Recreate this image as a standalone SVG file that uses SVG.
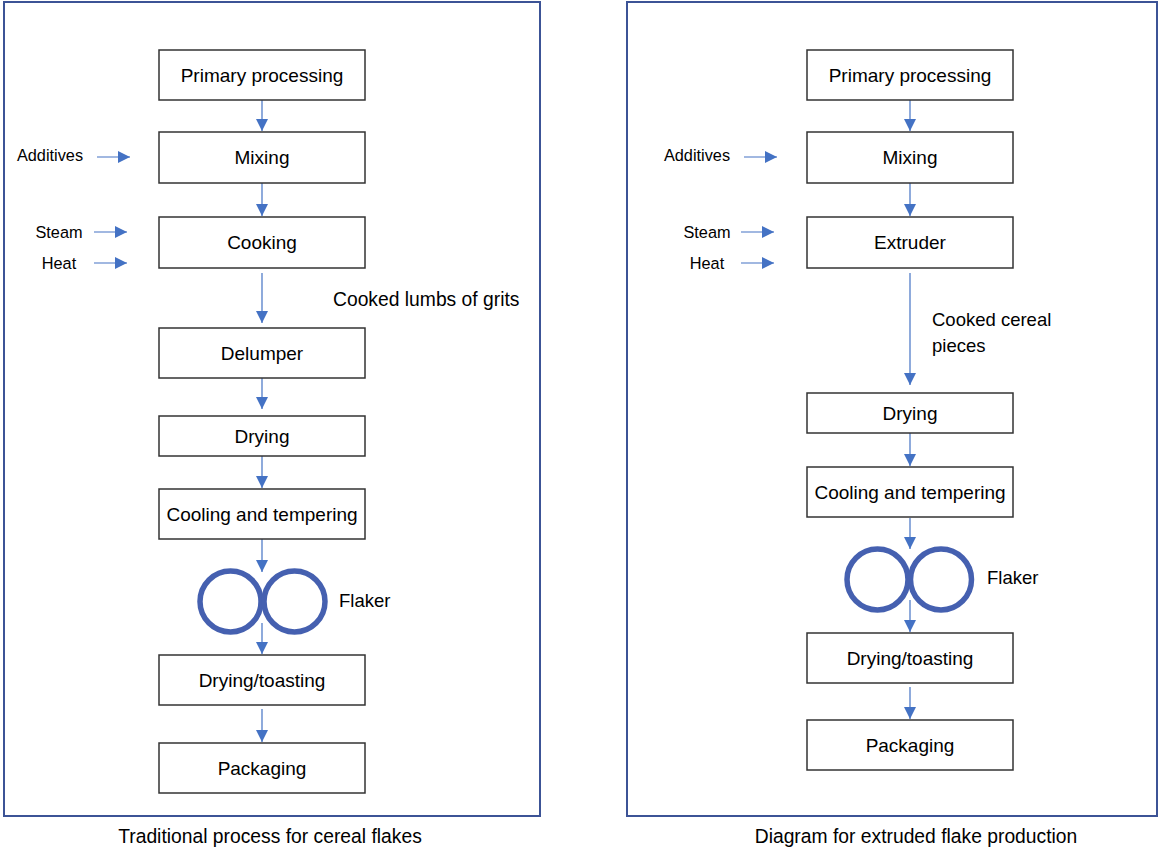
<svg xmlns="http://www.w3.org/2000/svg" width="1167" height="848" viewBox="0 0 1167 848">
<style>
  text { font-family: "Liberation Sans", Arial, sans-serif; fill: #000; }
  .frame { fill: #fff; stroke: #3c5396; stroke-width: 2; }
  .box { fill: #fff; stroke: #333; stroke-width: 1.5; }
  .bt { font-size: 19px; text-anchor: middle; dominant-baseline: central; }
  .lab { font-size: 16.3px; text-anchor: middle; dominant-baseline: central; }
  .note { font-size: 18.5px; dominant-baseline: central; }
  .note2 { font-size: 19.3px; dominant-baseline: central; }
  .cap { font-size: 19.3px; text-anchor: middle; dominant-baseline: central; }
  .arr { stroke: #4472c4; stroke-width: 1.2; fill: none; marker-end: url(#ah); }
  .roll { fill: none; stroke: #4560b0; stroke-width: 5.5; }
</style>
<defs>
  <marker id="ah" markerUnits="userSpaceOnUse" markerWidth="12" markerHeight="12" viewBox="0 0 12 12" refX="12" refY="6" orient="auto">
    <path d="M0,0 L12,6 L0,12 z" fill="#4472c4"/>
  </marker>
</defs>
<rect width="1167" height="848" fill="#fff"/>
<g id="frame-left"><rect class="frame" x="4" y="2" width="536" height="814"/></g>
<g id="frame-right"><rect class="frame" x="627" y="2" width="530" height="814"/></g>

<g id="connectors">
  <line class="arr" x1="262" y1="100" x2="262" y2="131"/>
  <line class="arr" x1="262" y1="183" x2="262" y2="216"/>
  <line class="arr" x1="262" y1="273" x2="262" y2="323"/>
  <line class="arr" x1="262" y1="378" x2="262" y2="409"/>
  <line class="arr" x1="262" y1="456" x2="262" y2="488"/>
  <line class="arr" x1="262" y1="539" x2="262" y2="572"/>
  <line class="arr" x1="262" y1="623" x2="262" y2="654"/>
  <line class="arr" x1="262" y1="709" x2="262" y2="742"/>
  <line class="arr" x1="97" y1="157" x2="130" y2="157"/>
  <line class="arr" x1="94" y1="232" x2="127" y2="232"/>
  <line class="arr" x1="94" y1="263" x2="127" y2="263"/>

  <line class="arr" x1="910" y1="100" x2="910" y2="131"/>
  <line class="arr" x1="910" y1="183" x2="910" y2="216"/>
  <line class="arr" x1="910" y1="273" x2="910" y2="385"/>
  <line class="arr" x1="910" y1="433" x2="910" y2="466"/>
  <line class="arr" x1="910" y1="518" x2="910" y2="549"/>
  <line class="arr" x1="910" y1="600" x2="910" y2="632"/>
  <line class="arr" x1="910" y1="687" x2="910" y2="719"/>
  <line class="arr" x1="744" y1="157" x2="777" y2="157"/>
  <line class="arr" x1="741" y1="232" x2="774" y2="232"/>
  <line class="arr" x1="741" y1="263" x2="774" y2="263"/>
</g>

<!-- Left panel -->
<g id="l-primary"><rect class="box" x="159" y="50" width="206" height="50"/><text class="bt" x="262" y="75">Primary processing</text></g>
<g id="l-mixing"><rect class="box" x="159" y="132" width="206" height="51"/><text class="bt" x="262" y="157">Mixing</text></g>
<g id="l-cooking"><rect class="box" x="159" y="217" width="206" height="51"/><text class="bt" x="262" y="242">Cooking</text></g>
<g id="l-delumper"><rect class="box" x="159" y="328" width="206" height="50"/><text class="bt" x="262" y="353">Delumper</text></g>
<g id="l-drying"><rect class="box" x="159" y="416" width="206" height="40"/><text class="bt" x="262" y="436">Drying</text></g>
<g id="l-cooling"><rect class="box" x="159" y="489" width="206" height="50"/><text class="bt" x="262" y="514">Cooling and tempering</text></g>
<g id="l-flaker"><circle class="roll" cx="230.5" cy="601.5" r="30.5"/><circle class="roll" cx="294.5" cy="601.5" r="30.5"/><text class="note" x="339" y="600">Flaker</text></g>
<g id="l-toasting"><rect class="box" x="159" y="655" width="206" height="50"/><text class="bt" x="262" y="680">Drying/toasting</text></g>
<g id="l-packaging"><rect class="box" x="159" y="743" width="206" height="50"/><text class="bt" x="262" y="768">Packaging</text></g>
<g id="l-labels">
  <text class="lab" x="50" y="155">Additives</text>
  <text class="lab" x="59" y="232">Steam</text>
  <text class="lab" x="59" y="263">Heat</text>
  <text class="note2" x="333" y="299">Cooked lumbs of grits</text>
  <text class="cap" x="270" y="836">Traditional process for cereal flakes</text>
</g>

<!-- Right panel -->
<g id="r-primary"><rect class="box" x="807" y="50" width="206" height="50"/><text class="bt" x="910" y="75">Primary processing</text></g>
<g id="r-mixing"><rect class="box" x="807" y="132" width="206" height="51"/><text class="bt" x="910" y="157">Mixing</text></g>
<g id="r-extruder"><rect class="box" x="807" y="217" width="206" height="51"/><text class="bt" x="910" y="242">Extruder</text></g>
<g id="r-drying"><rect class="box" x="807" y="393" width="206" height="40"/><text class="bt" x="910" y="413">Drying</text></g>
<g id="r-cooling"><rect class="box" x="807" y="467" width="206" height="50"/><text class="bt" x="910" y="492">Cooling and tempering</text></g>
<g id="r-flaker"><circle class="roll" cx="877.5" cy="579.5" r="30.5"/><circle class="roll" cx="941" cy="579.5" r="30.5"/><text class="note" x="987" y="577">Flaker</text></g>
<g id="r-toasting"><rect class="box" x="807" y="633" width="206" height="50"/><text class="bt" x="910" y="658">Drying/toasting</text></g>
<g id="r-packaging"><rect class="box" x="807" y="720" width="206" height="50"/><text class="bt" x="910" y="745">Packaging</text></g>
<g id="r-labels">
  <text class="lab" x="697" y="155">Additives</text>
  <text class="lab" x="707" y="232">Steam</text>
  <text class="lab" x="707" y="263">Heat</text>
  <text class="note" x="932" y="319">Cooked cereal</text>
  <text class="note" x="932" y="345">pieces</text>
  <text class="cap" x="916" y="836">Diagram for extruded flake production</text>
</g>
</svg>
